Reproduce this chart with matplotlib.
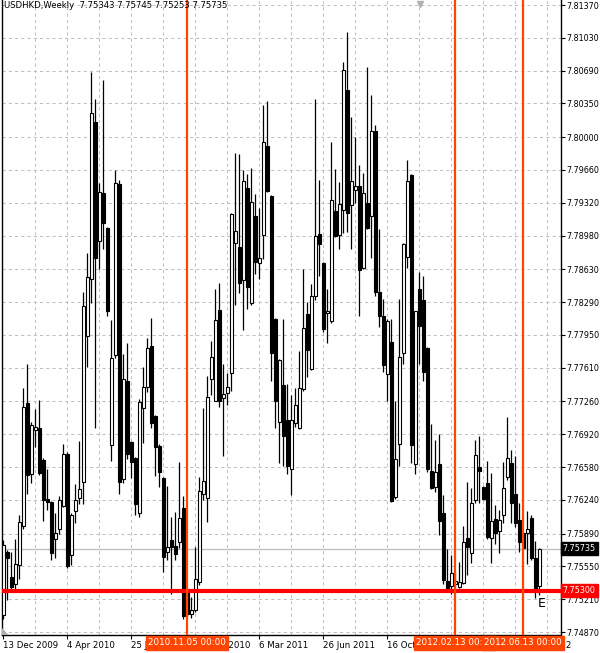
import numpy as np
import pandas as pd
import matplotlib
matplotlib.use('Agg')
from matplotlib import pyplot as plt
from matplotlib.patches import Polygon

# weekly USDHKD bars, first bar = 13 Dec 2009
opens = [
7.7505, 7.7570, 7.7544, 7.7537, 7.7556, 7.7597, 7.7724, 7.7651, 7.7696, 7.7698,
7.7665, 7.7625, 7.7622, 7.7583, 7.7594, 7.7618, 7.7672, 7.7567, 7.7612, 7.7626,
7.7643, 7.7794, 7.7853, 7.8016, 7.7892, 7.7942, 7.7906, 7.7681, 7.7774, 7.7951,
7.7646, 7.7747, 7.7684, 7.7667, 7.7610, 7.7719, 7.7741, 7.7784, 7.7711, 7.7680,
7.7647, 7.7570, 7.7582, 7.7576, 7.7580, 7.7616, 7.7528, 7.7506, 7.7510, 7.7539,
7.7630, 7.7626, 7.7749, 7.7727, 7.7821, 7.7730, 7.7735, 7.7755, 7.7890, 7.7886,
7.7852, 7.7947, 7.7828, 7.7918, 7.7870, 7.7899, 7.7991, 7.7939, 7.7812, 7.7705,
7.7743, 7.7707, 7.7656, 7.7704, 7.7698, 7.7739, 7.7817, 7.7760, 7.7835, 7.7900,
7.7870, 7.7818, 7.7809, 7.7923, 7.7899, 7.7925, 7.8049, 7.7930, 7.7945, 7.7949,
7.7864, 7.7932, 7.7918, 7.8006, 7.7839, 7.7815, 7.7754, 7.7788, 7.7627, 7.7682,
7.7776, 7.7876, 7.7961, 7.7661, 7.7843, 7.7831, 7.7781, 7.7654, 7.7637, 7.7661,
7.7610, 7.7540, 7.7535, 7.7537, 7.7534, 7.7538, 7.7584, 7.7569, 7.7624, 7.7658,
7.7637, 7.7641, 7.7584, 7.7604, 7.7592, 7.7608, 7.7648, 7.7662, 7.7630, 7.7603,
7.7590, 7.7590, 7.7605, 7.7564, 7.75343]
highs = [
7.7582, 7.7572, 7.7570, 7.7583, 7.7608, 7.7740, 7.7765, 7.7705, 7.7718, 7.7728,
7.7667, 7.7656, 7.7623, 7.7610, 7.7628, 7.7682, 7.7674, 7.7610, 7.7640, 7.7685,
7.7840, 7.7880, 7.8068, 7.8040, 7.7953, 7.8059, 7.7907, 7.7810, 7.7966, 7.7956,
7.7775, 7.7787, 7.7685, 7.7668, 7.7729, 7.7762, 7.7792, 7.7813, 7.7712, 7.7682,
7.7648, 7.7638, 7.7606, 7.7611, 7.7663, 7.7628, 7.7530, 7.7523, 7.7575, 7.7648,
7.7719, 7.7752, 7.7789, 7.7843, 7.7849, 7.7765, 7.7755, 7.7921, 7.7984, 7.7983,
7.7966, 7.7962, 7.7968, 7.7941, 7.7927, 7.8033, 7.8038, 7.7940, 7.7813, 7.7770,
7.7812, 7.7744, 7.7733, 7.7740, 7.7778, 7.7863, 7.7829, 7.7848, 7.8040, 7.7956,
7.7871, 7.7843, 7.7995, 7.7967, 7.7954, 7.8078, 7.8109, 7.8021, 7.8000, 7.7971,
7.7963, 7.8073, 7.8044, 7.8013, 7.7905, 7.7832, 7.7811, 7.7811, 7.7727, 7.7832,
7.7890, 7.7976, 7.7962, 7.7820, 7.7860, 7.7856, 7.7782, 7.7703, 7.7686, 7.7692,
7.7629, 7.7573, 7.7567, 7.7549, 7.7560, 7.7597, 7.7643, 7.7636, 7.7686, 7.7690,
7.7638, 7.7664, 7.7652, 7.7619, 7.7614, 7.7663, 7.7710, 7.7676, 7.7669, 7.7621,
7.7591, 7.7612, 7.7608, 7.7581, 7.75745]
lows = [
7.7500, 7.7520, 7.7530, 7.7528, 7.7542, 7.7594, 7.7630, 7.7641, 7.7679, 7.7650,
7.7602, 7.7614, 7.7562, 7.7564, 7.7589, 7.7617, 7.7553, 7.7556, 7.7600, 7.7620,
7.7620, 7.7762, 7.7828, 7.7699, 7.7863, 7.7884, 7.7815, 7.7664, 7.7771, 7.7630,
7.7641, 7.7666, 7.7647, 7.7608, 7.7606, 7.7683, 7.7736, 7.7698, 7.7649, 7.7637,
7.7549, 7.7562, 7.7526, 7.7562, 7.7574, 7.7500, 7.7503, 7.7502, 7.7508, 7.7536,
7.7624, 7.7601, 7.7733, 7.7726, 7.7720, 7.7669, 7.7722, 7.7737, 7.7826, 7.7838,
7.7800, 7.7822, 7.7826, 7.7858, 7.7853, 7.7874, 7.7943, 7.7747, 7.7698, 7.7662,
7.7659, 7.7651, 7.7629, 7.7700, 7.7697, 7.7737, 7.7751, 7.7759, 7.7831, 7.7856,
7.7798, 7.7787, 7.7807, 7.7897, 7.7884, 7.7901, 7.7902, 7.7884, 7.7932, 7.7815,
7.7863, 7.7905, 7.7875, 7.7835, 7.7803, 7.7757, 7.7727, 7.7622, 7.7625, 7.7659,
7.7765, 7.7864, 7.7662, 7.7651, 7.7765, 7.7747, 7.7653, 7.7635, 7.7632, 7.7588,
7.7537, 7.7532, 7.7526, 7.7533, 7.7533, 7.7537, 7.7546, 7.7559, 7.7621, 7.7621,
7.7624, 7.7583, 7.7559, 7.7578, 7.7569, 7.7600, 7.7645, 7.7600, 7.7596, 7.7570,
7.7573, 7.7557, 7.7562, 7.7522, 7.75253]
closes = [
7.7577, 7.7564, 7.7534, 7.7557, 7.7601, 7.7720, 7.7650, 7.7702, 7.7700, 7.7652,
7.7624, 7.7622, 7.7569, 7.7590, 7.7624, 7.7672, 7.7555, 7.7608, 7.7624, 7.7635,
7.7825, 7.7855, 7.8025, 7.7875, 7.7943, 7.7911, 7.7820, 7.7771, 7.7952, 7.7643,
7.7749, 7.7672, 7.7663, 7.7620, 7.7725, 7.7741, 7.7781, 7.7704, 7.7679, 7.7653,
7.7565, 7.7575, 7.7575, 7.7568, 7.7605, 7.7504, 7.7506, 7.7510, 7.7542, 7.7633,
7.7644, 7.7731, 7.7772, 7.7810, 7.7727, 7.7734, 7.7741, 7.7920, 7.7903, 7.7849,
7.7955, 7.7845, 7.7933, 7.7871, 7.7875, 7.7995, 7.7944, 7.7776, 7.7727, 7.7769,
7.7690, 7.7659, 7.7707, 7.7722, 7.7740, 7.7802, 7.7779, 7.7835, 7.7898, 7.7889,
7.7801, 7.7820, 7.7935, 7.7898, 7.7931, 7.8070, 7.7921, 7.7955, 7.7949, 7.7862,
7.7942, 7.7906, 7.8006, 7.7840, 7.7815, 7.7764, 7.7809, 7.7623, 7.7666, 7.7772,
7.7889, 7.7955, 7.7681, 7.7820, 7.7804, 7.7757, 7.7656, 7.7636, 7.7653, 7.7602,
7.7541, 7.7533, 7.7548, 7.7540, 7.7539, 7.7580, 7.7575, 7.7621, 7.7671, 7.7654,
7.7625, 7.7586, 7.7602, 7.7590, 7.7603, 7.7636, 7.7667, 7.7621, 7.7600, 7.7580,
7.7574, 7.7594, 7.7564, 7.7533, 7.75735]

price_ticks = [7.81370, 7.81030, 7.80690, 7.80350, 7.80000, 7.79660, 7.79320,
               7.78980, 7.78630, 7.78290, 7.77950, 7.77610, 7.77260, 7.76920,
               7.76580, 7.76240, 7.75890, 7.75550, 7.75210, 7.74870]
support_level = 7.75300
vline_bars = [46, 113, 130]
vline_labels = ['2010.11.05 00:00', '2012.02.13 00:00', '2012.06.13 00:00']

dates = pd.date_range('2009-12-13', periods=len(opens), freq='7D')
n = len(opens)
x = np.arange(n)
o = np.array(opens); h = np.array(highs); l = np.array(lows); c = np.array(closes)
up = c >= o

fig = plt.figure(figsize=(6.0, 6.53), dpi=100)
ax = fig.add_axes([2 / 600, 18 / 653, 559 / 600, 635 / 653])
ax.set_xlim(-0.3, 139.45)
ax.set_ylim(7.74839, 7.81422)

grid_kw = dict(color='#c0c0c0', lw=0.75, dashes=(3, 3), zorder=0)
for p in price_ticks:
    ax.axhline(p, **grid_kw)
for g in range(8, 140, 8):
    ax.axvline(g, **grid_kw)

# bid line
ax.axhline(closes[-1], color='#c0c0c0', lw=1, zorder=1)

ax.vlines(x, l, h, color='black', lw=0.9, zorder=2)
body_lo = np.minimum(o, c)
body_h = np.maximum(np.abs(c - o), 0.00002)
ax.bar(x[up], body_h[up], bottom=body_lo[up], width=0.7, color='white',
       edgecolor='black', lw=0.8, zorder=3)
ax.bar(x[~up], body_h[~up], bottom=body_lo[~up], width=0.7, color='black',
       edgecolor='black', lw=0.8, zorder=3)

ax.axhline(support_level, color='#ff0000', lw=3, zorder=4)
for b in vline_bars:
    ax.axvline(b, color='#ff4500', lw=1.6, zorder=4)

ax.text(n - 0.3, 7.7517, 'E', fontsize=9, ha='center', va='center', zorder=5)

ax.spines['top'].set_visible(False)
for s in ['left', 'right', 'bottom']:
    ax.spines[s].set_linewidth(1)
ax.yaxis.tick_right()
ax.set_yticks(price_ticks)
ax.set_yticklabels(['%.5f' % p for p in price_ticks])
ax.tick_params(axis='y', length=3, width=0.8, pad=1.2, labelsize=5.8)
xt = list(range(0, n, 16))
ax.set_xticks(xt)
ax.set_xticklabels([f'{dates[i].day} {dates[i]:%b %Y}' for i in xt], ha='left')
ax.tick_params(axis='x', length=3, width=0.8, pad=1.5, labelsize=6.2)

ytr = ax.get_yaxis_transform()
ax.text(1.003, closes[-1], '%.5f' % closes[-1], transform=ytr, fontsize=5.8,
        color='white', va='center', ha='left', zorder=10, clip_on=False,
        bbox=dict(boxstyle='square,pad=0.25', fc='black', ec='black'))
ax.text(1.003, support_level, '%.5f' % support_level, transform=ytr, fontsize=5.8,
        color='white', va='center', ha='left', zorder=10, clip_on=False,
        bbox=dict(boxstyle='square,pad=0.25', fc='#ff0000', ec='#ff0000'))

xtr = ax.get_xaxis_transform()
for b, lab in zip(vline_bars, vline_labels):
    ax.text(b, -0.0125, lab, transform=xtr, fontsize=6.3, color='white',
            ha='center', va='center', zorder=10, clip_on=False,
            bbox=dict(boxstyle='square,pad=0.25', fc='#ff4500', ec='#ff4500'))

ax.text(0.004, 0.991, 'USDHKD,Weekly  %.5f %.5f %.5f %.5f' % (opens[-1], highs[-1], lows[-1], closes[-1]),
        transform=ax.transAxes, fontsize=6.1, ha='left', va='center', zorder=10)

ax.plot([0.748], [0.994], marker='v', ms=4, color='#b0b0b0', transform=ax.transAxes, clip_on=False)
ax.add_patch(Polygon([[0, 0], [0.012, 0], [0, 0.011]], closed=True, transform=ax.transAxes,
                     fc='#b0b0b0', ec='none', zorder=5))

fig.savefig('out.png', dpi=100)
plt.close()
